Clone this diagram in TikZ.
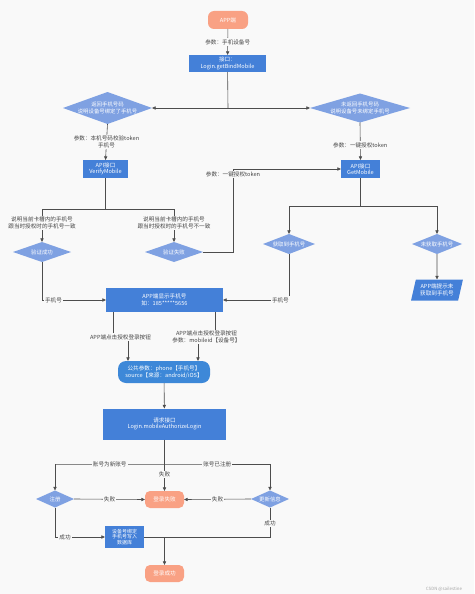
\documentclass[tikz,border=0pt]{standalone}
\usepackage{fontspec}
\setmainfont{Noto Sans CJK SC}
\usetikzlibrary{shapes.geometric,arrows.meta}
\definecolor{bgcol}{HTML}{F9F9F9}
\definecolor{salmon}{HTML}{F9A184}
\definecolor{boxblue}{HTML}{4480D8}
\definecolor{diablue}{HTML}{7FA1E2}
\definecolor{pubblue}{HTML}{3D88D8}
\definecolor{linecol}{HTML}{4D4D4D}
\definecolor{txtcol}{HTML}{444444}
\tikzset{
  base/.style={inner sep=0pt, outer sep=0pt, text=white, align=center, font=\fontsize{5.6}{6.6}\selectfont},
  term/.style={base, rectangle, rounded corners=6pt, fill=salmon},
  rbox/.style={base, rectangle, fill=boxblue},
  pubbox/.style={base, rectangle, rounded corners=8pt, fill=pubblue},
  dia/.style={base, diamond, fill=diablue},
  para/.style={base, trapezium, trapezium left angle=72, trapezium right angle=108, trapezium stretches=true, fill=boxblue},
  conn/.style={draw=linecol, line width=0.6pt},
  arr/.style={conn, -{Triangle[length=3.6pt,width=3.2pt]}},
  lbl/.style={inner sep=1pt, fill=bgcol, text=txtcol, align=center, font=\fontsize{5.6}{6.6}\selectfont},
  wlbl/.style={inner sep=0pt, text=white, align=center, font=\fontsize{5.4}{6.4}\selectfont}
}
\begin{document}
\begin{tikzpicture}[x=1pt,y=-1pt]
\fill[bgcol] (0,0) rectangle (474,594);
\useasboundingbox (0,0) rectangle (474,594);

% nodes
\node[term, minimum width=40, minimum height=18] (app) at (228,20) {APP端};
\node[rbox, minimum width=77, minimum height=17] (bind) at (227.5,63.5) {接口：\\Login.getBindMobile};
\coordinate (j1) at (228,108);
\node[dia, minimum width=89, minimum height=32, label={[wlbl]center:返回手机号码\\说明设备号绑定了手机号}] (d1) at (107.5,108) {};
\node[dia, minimum width=100, minimum height=29, label={[wlbl]center:未返回手机号码\\说明设备号未绑定手机号}] (d2) at (360,108) {};
\node[rbox, minimum width=45, minimum height=18] (vm) at (105.5,169) {API接口\\VerifyMobile};
\node[rbox, minimum width=39, minimum height=18] (gm) at (360.5,169) {API接口\\GetMobile};

\coordinate (j2) at (105.5,209);
\coordinate (j2l) at (42,209);
\coordinate (j2r) at (174,209);
\node[dia, minimum width=58, minimum height=20, label={[wlbl]center:验证成功}] (vs) at (42,252) {};
\node[dia, minimum width=58, minimum height=20, label={[wlbl]center:验证失败}] (vf) at (174,252) {};
\coordinate (j3a) at (233,252);
\coordinate (j3b) at (233,169);

\coordinate (j4) at (360.5,206);
\coordinate (j4l) at (289,206);
\coordinate (j4r) at (437,206);
\node[dia, minimum width=52, minimum height=20, label={[wlbl]center:获取到手机号}] (gd) at (289,244) {};
\node[dia, minimum width=50, minimum height=20, label={[wlbl]center:未获取手机号}] (nd) at (437,244) {};
\node[para, minimum width=52, minimum height=21] (pa) at (437,290) {APP端提示未\\获取到手机号};

\node[rbox, minimum width=117, minimum height=24] (disp) at (164.5,300) {APP端显示手机号\\如：185*****5656};
\coordinate (j5) at (42,300);
\coordinate (j6) at (289,300);

\node[pubbox, minimum width=92, minimum height=22] (pub) at (164,372) {公共参数：phone【手机号】\\source【来源：android/iOS】};
\node[rbox, minimum width=123, minimum height=31] (req) at (164.5,424) {请求接口\\Login.mobileAuthorizeLogin};

\coordinate (j7) at (164.5,464);
\coordinate (j7l) at (55,464);
\coordinate (j7r) at (270,464);
\node[dia, minimum width=38, minimum height=17, label={[wlbl]center:注册}] (reg) at (55,499) {};
\node[term, minimum width=39, minimum height=17, rounded corners=5pt] (fail) at (164.5,499.5) {登录失败};
\node[dia, minimum width=38, minimum height=17, label={[wlbl]center:更新信息}] (upd) at (270,499) {};
\node[rbox, minimum width=39, minimum height=22, font=\fontsize{5}{5.9}\selectfont] (bd) at (124.5,537) {设备号绑定\\手机号写入\\数据库};
\coordinate (j8) at (55,537);
\coordinate (j9) at (270,537);
\coordinate (j10) at (164.5,537);
\node[term, minimum width=39, minimum height=17, rounded corners=5pt] (succ) at (164.5,573.5) {登录成功};

\node[text=gray!70, font=\fontsize{4.4}{5}\selectfont, inner sep=0pt] (wm) at (444,589) {CSDN @sailestine};

% connectors
\draw[arr] (app) -- node[lbl, pos=0.5] {参数：手机设备号} (bind);
\draw[conn] (bind) -- (j1);
\draw[arr] (j1) -- (d1.east);
\draw[arr] (j1) -- (d2.west);
\draw[arr] (d1.south) -- node[lbl, pos=0.5] {参数：本机号码校验token\\手机号} (vm.north);
\draw[arr] (d2.south) -- node[lbl, pos=0.6] {参数：一键授权token} (gm.north);

\draw[conn] (vm.south) -- (j2);
\draw[conn] (j2l) -- (j2r);
\draw[arr] (j2l) -- node[lbl, pos=0.42] {说明当前卡槽内的手机号\\跟当时授权时的手机号一致} (vs.north);
\draw[arr] (j2r) -- node[lbl, pos=0.42] {说明当前卡槽内的手机号\\跟当时授权时的手机号不一致} (vf.north);
\draw[arr] (vf.east) -- (j3a) -- node[lbl, pos=0.93] {参数：一键授权token} (j3b) -- (gm.west);

\draw[conn] (gm.south) -- (j4);
\draw[conn] (j4l) -- (j4r);
\draw[arr] (j4l) -- (gd.north);
\draw[arr] (j4r) -- (nd.north);
\draw[arr] (nd.south) -- (pa.north);

\draw[arr] (vs.south) -- (j5) -- node[lbl, pos=0.18] {手机号} (disp.west);
\draw[arr] (gd.south) -- (j6) -- node[lbl, pos=0.13] {手机号} (disp.east);

\draw[arr] (disp.south -| 113,0) -- (113,337) -- node[lbl, pos=0.5] {APP端点击授权登录按钮} (128,337) -- (pub.north -| 128,0);
\draw[arr] (disp.south -| 215,0) -- (215,337) -- node[lbl, pos=0.5] {APP端点击授权登录按钮\\参数：mobileid【设备号】} (198,337) -- (pub.north -| 198,0);

\draw[arr] (pub) -- (req);
\draw[conn] (req.south) -- (j7);
\draw[conn] (j7l) -- node[lbl, pos=0.5] {账号为新账号} (j7) -- node[lbl, pos=0.5] {账号已注册} (j7r);
\draw[arr] (j7l) -- (reg.north);
\draw[arr] (j7r) -- (upd.north);
\draw[arr] (j7) -- node[lbl, pos=0.4] {失败} (fail.north);
\draw[arr] (reg.east) -- node[lbl, pos=0.5] {失败} (fail.west);
\draw[arr] (upd.west) -- node[lbl, pos=0.5] {失败} (fail.east);
\draw[arr] (reg.south) -- (j8) -- node[lbl, pos=0.2] {成功} (bd.west);
\draw[conn] (upd.south) -- node[lbl, pos=0.55] {成功} (j9) -- (j10);
\draw[conn] (bd.east) -- (j10);
\draw[arr] (j10) -- (succ.north);
\end{tikzpicture}
\end{document}
